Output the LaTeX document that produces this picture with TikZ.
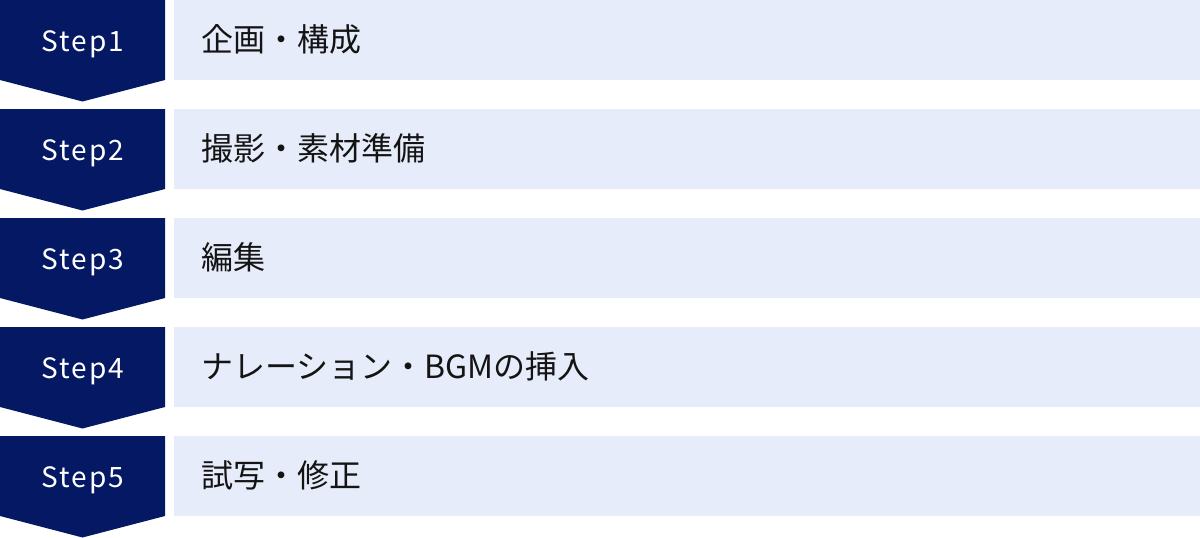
\documentclass[tikz,border=0pt]{standalone}
\usepackage{fontspec}
\setmainfont{Noto Sans CJK JP}
\newfontfamily\stepfont{Noto Sans CJK JP}[LetterSpace=7]
\usetikzlibrary{positioning}
\definecolor{stepnavy}{RGB}{5,24,100}
\definecolor{steplight}{RGB}{230,236,249}
\definecolor{tasktext}{RGB}{20,20,20}

\begin{document}
\begin{tikzpicture}[x=1pt, y=1pt,
    steplabel/.style={text=white, anchor=base, inner sep=0pt, font=\stepfont\fontsize{28}{32}\selectfont},
    taskbox/.style={fill=steplight, minimum width=1026pt, minimum height=80pt, anchor=north west, inner sep=0pt},
    tasklabel/.style={text=tasktext, anchor=base west, inner sep=0pt, font=\fontsize{32}{38}\selectfont}]
    \useasboundingbox (0,0) rectangle (1200,-538);
    \foreach \i/\task in {1/企画・構成, 2/撮影・素材準備, 3/編集, 4/ナレーション・BGMの挿入, 5/試写・修正} {
        \pgfmathsetmacro{\rowtop}{-(\i-1)*109}
        \fill[stepnavy] (0,\rowtop) -- (165,\rowtop) -- (165,\rowtop-80) -- (82.5,\rowtop-101.5) -- (0,\rowtop-80) -- cycle;
        \node (step\i) [steplabel] at (83,\rowtop-51) {Step\i};
        \node (box\i) [taskbox] at (174,\rowtop) {};
        \node (task\i) [tasklabel] at (201,\rowtop-51) {\task};
    }
\end{tikzpicture}
\end{document}
